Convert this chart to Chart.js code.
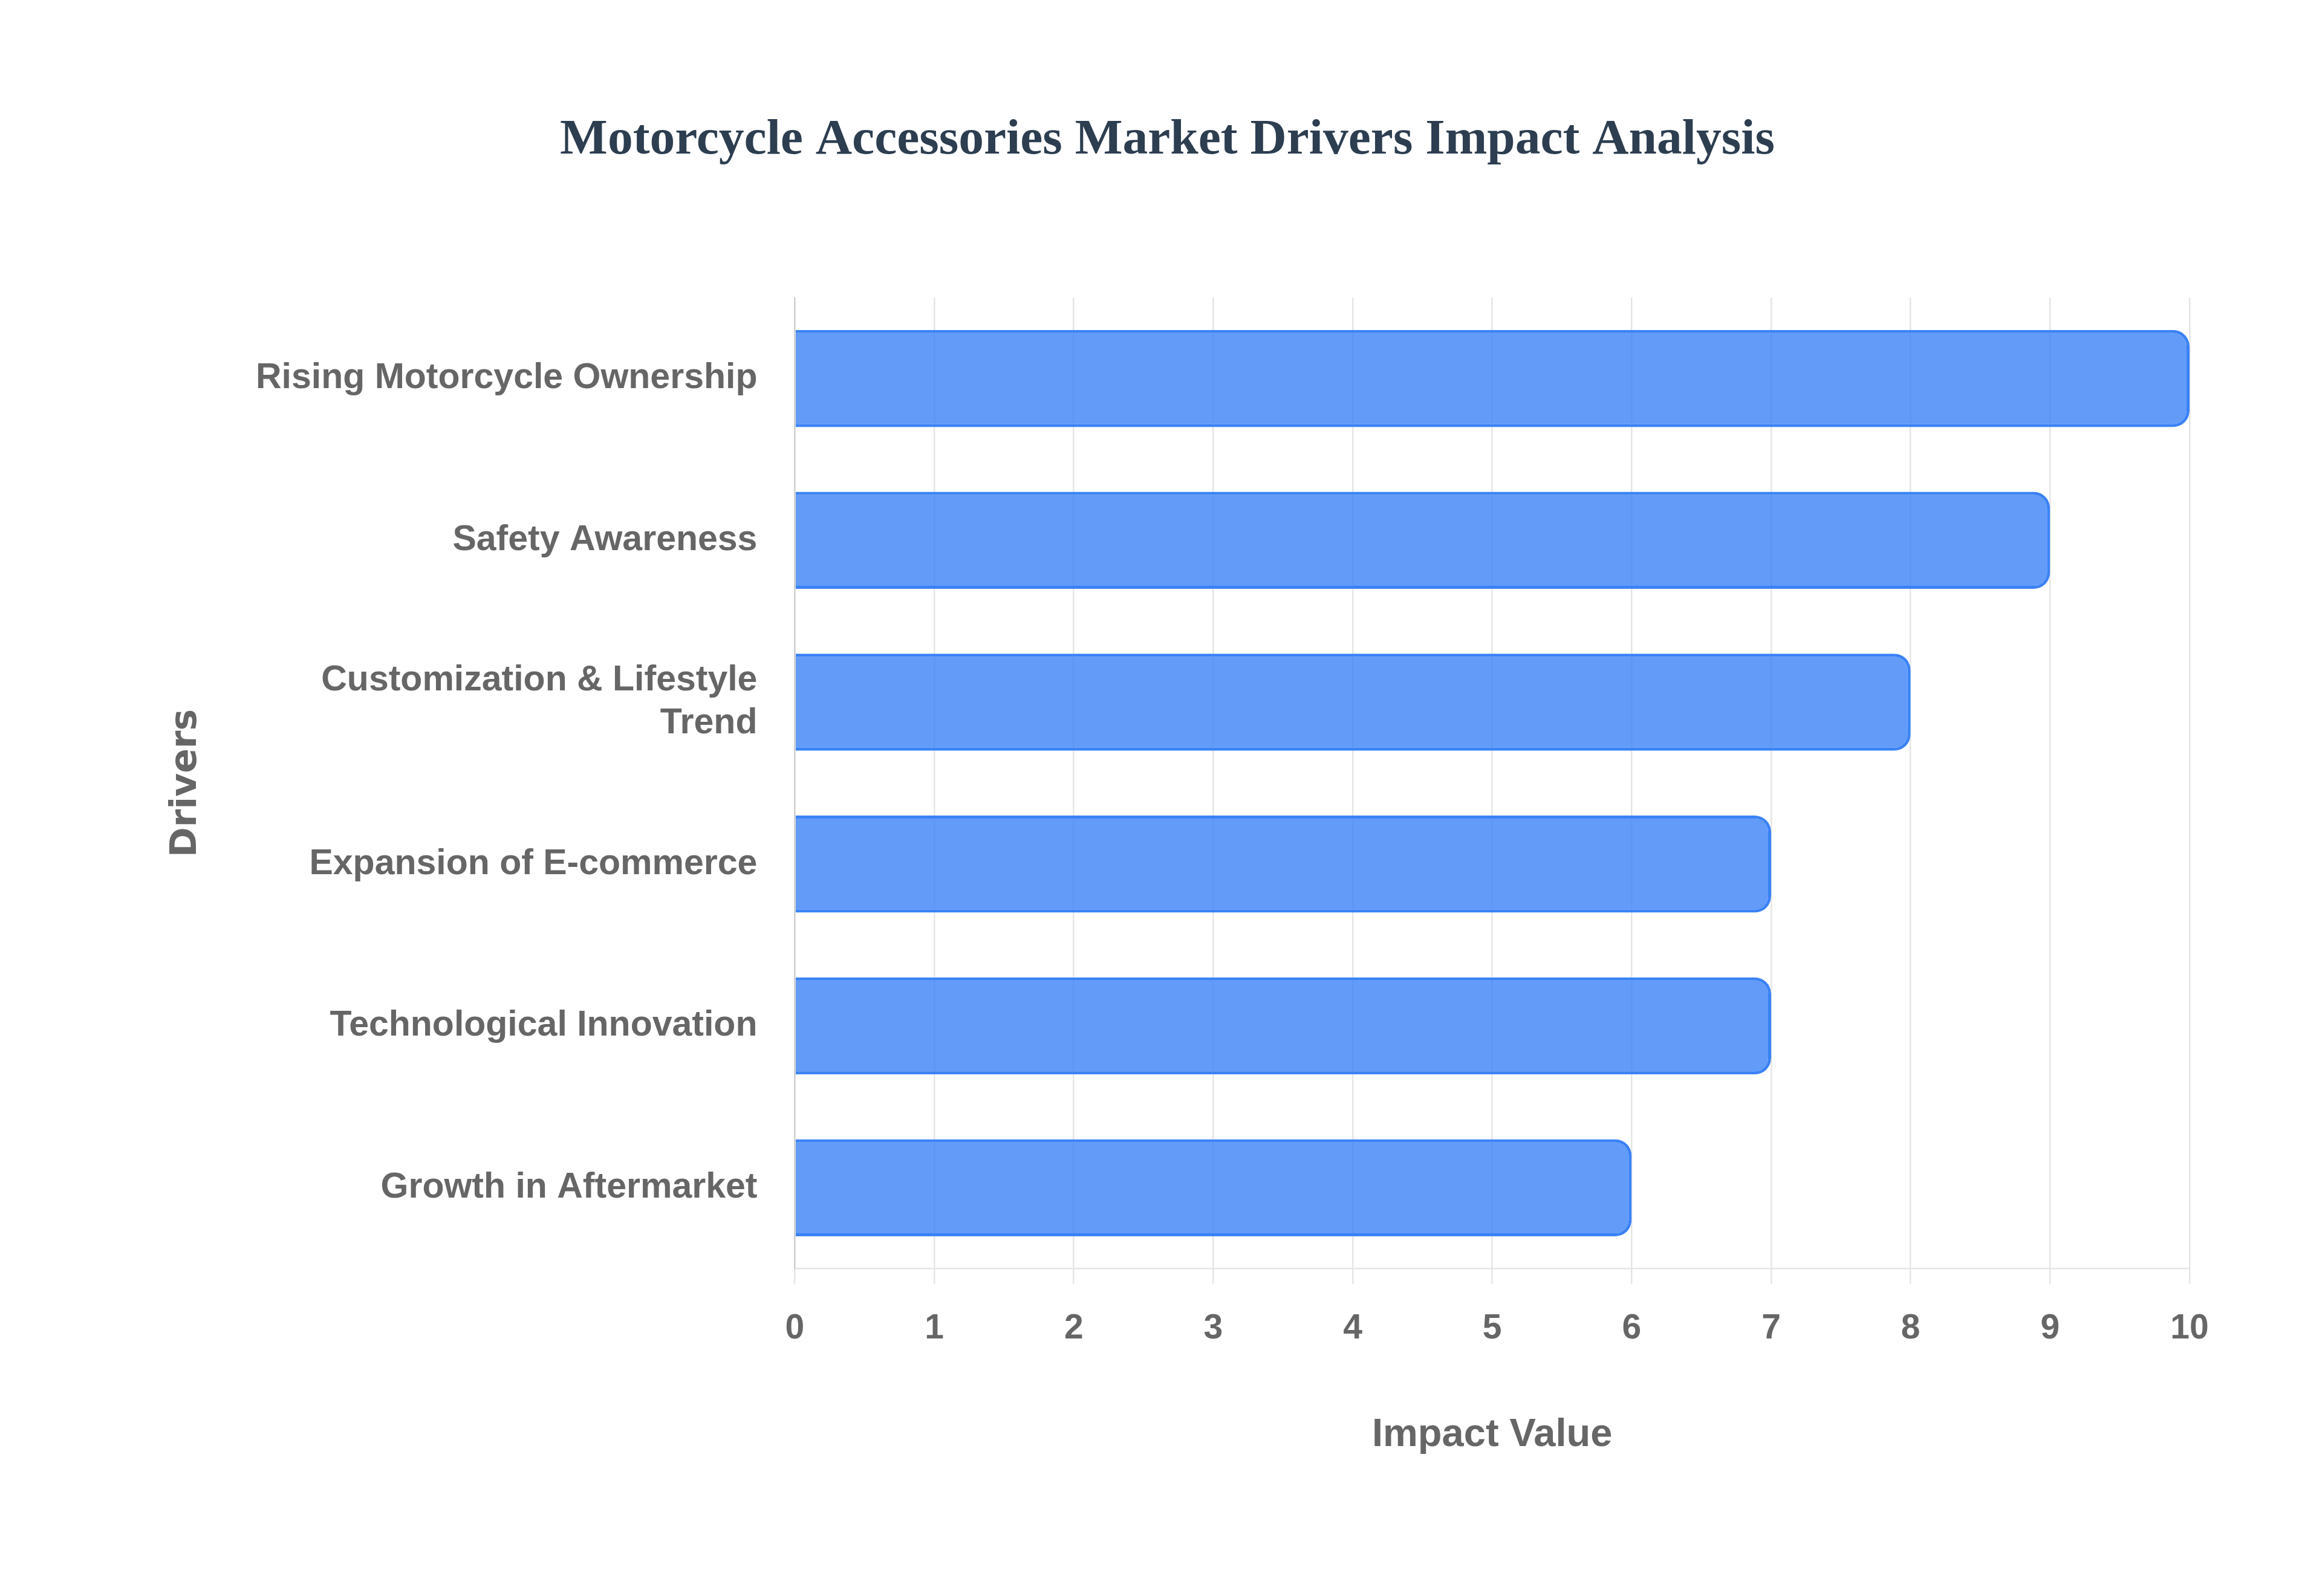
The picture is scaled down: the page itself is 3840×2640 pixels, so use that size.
<!DOCTYPE html>
<html>
<head>
<meta charset="utf-8">
<title>Motorcycle Accessories Market Drivers Impact Analysis</title>
<script src="https://cdn.jsdelivr.net/npm/chart.js@4.4.0/dist/chart.umd.min.js"></script>
<style>
    html, body { margin: 0; padding: 0; background: #ffffff; }
    #wrap { width: 3840px; height: 2640px; position: relative; }
</style>
</head>
<body>
<div id="wrap"><canvas id="myChart"></canvas></div>
<script>
// dati del grafico
const drivers = [
    "Rising Motorcycle Ownership",
    "Safety Awareness",
    ["Customization & Lifestyle", "Trend"],
    "Expansion of E-commerce",
    "Technological Innovation",
    "Growth in Aftermarket",
];
const impactValues = [10, 9, 8, 7, 7, 6];
const xTicks = [0, 1, 2, 3, 4, 5, 6, 7, 8, 9, 10];

const ctx = document.getElementById("myChart");
const textGray = "#666666";

new Chart(ctx, {
    type: "bar",
    data: {
        labels: drivers,
        datasets: [
            {
                label: "Impact Value",
                data: impactValues,
                backgroundColor: "rgba(59, 130, 246, 0.8)",
                borderColor: "rgba(59, 130, 246, 1)",
                borderWidth: 5,
                borderRadius: 27,
                barPercentage: 0.75,
                categoryPercentage: 0.8,
            },
        ],
    },
    options: {
        indexAxis: "y",
        responsive: true,
        maintainAspectRatio: false,
        devicePixelRatio: 1,
        animation: false,
        layout: {
            padding: { top: 0, right: 219, bottom: 227, left: 240 },
        },
        plugins: {
            legend: { display: false },
            tooltip: { enabled: false },
            title: {
                display: true,
                text: "Motorcycle Accessories Market Drivers Impact Analysis",
                color: "#2c3e50",
                font: { family: "'Liberation Serif', 'Times New Roman', serif", size: 83.5, weight: "bold" },
                padding: { top: 182, bottom: 210 },
            },
        },
        scales: {
            x: {
                min: 0,
                max: 10,
                afterBuildTicks: (axis) => {
                    axis.ticks = xTicks.map((v) => ({ value: v }));
                },
                grid: {
                    color: "rgba(0, 0, 0, 0.1)",
                    lineWidth: 2.5,
                    tickLength: 25,
                },
                border: { color: "rgba(0, 0, 0, 0.1)", width: 2.5 },
                ticks: {
                    color: textGray,
                    padding: 40,
                    font: { family: "'Liberation Sans', Arial, sans-serif", size: 57, weight: "bold" },
                },
                title: {
                    display: true,
                    text: "Impact Value",
                    color: textGray,
                    font: { family: "'Liberation Sans', Arial, sans-serif", size: 65, weight: "bold" },
                    padding: { top: 63, bottom: 0 },
                },
            },
            y: {
                grid: { display: false, drawTicks: false },
                border: { color: "rgba(0, 0, 0, 0.1)", width: 2.5 },
                ticks: {
                    color: textGray,
                    padding: 62,
                    font: { family: "'Liberation Sans', Arial, sans-serif", size: 59, weight: "bold" },
                },
                title: {
                    display: true,
                    text: "Drivers",
                    color: textGray,
                    font: { family: "'DejaVu Sans', Verdana, sans-serif", size: 60, weight: "bold" },
                    padding: { top: 32, bottom: 17 },
                },
            },
        },
    },
});
</script>
</body>
</html>
